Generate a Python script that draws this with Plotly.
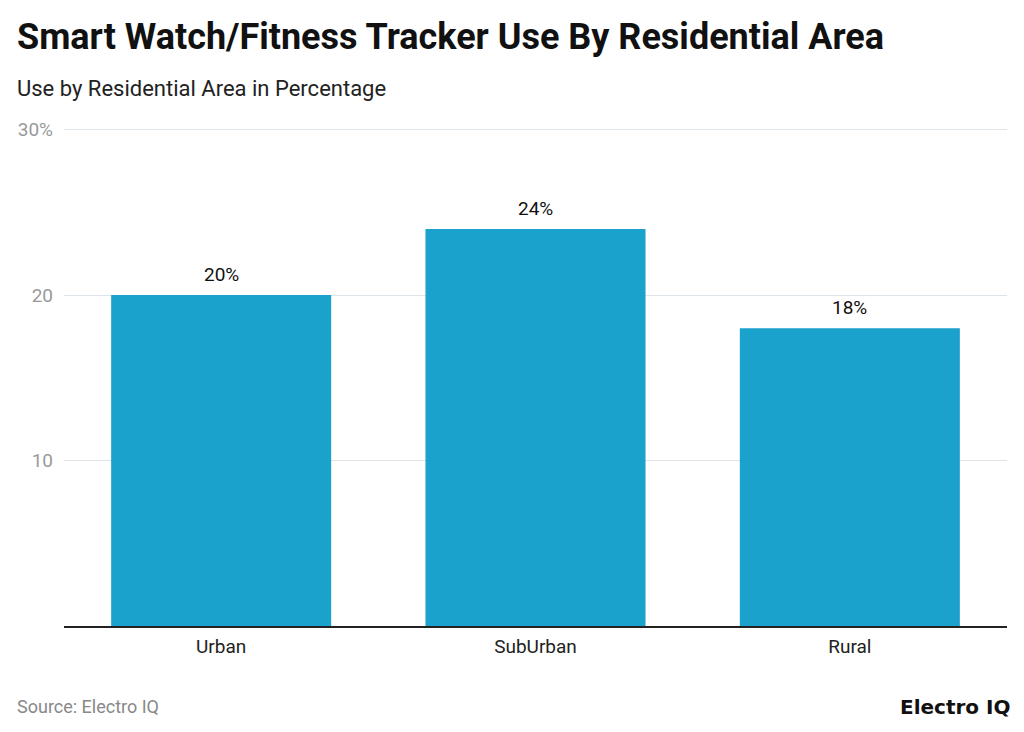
import plotly.graph_objects as go

categories = ["Urban", "SubUrban", "Rural"]
values = [20, 24, 18]
labels = ["20%", "24%", "18%"]
tick_vals = [10, 20, 30]
tick_text = ["10", "20", "30%"]

fig = go.Figure()
fig.add_trace(go.Bar(
    x=categories, y=values, width=0.7,
    marker=dict(color="#1aa1cc", line=dict(width=0)),
))

bar_labels = [
    dict(x=c, y=v, text=t, xref="x", yref="y", xanchor="center", yanchor="bottom",
         yshift=7, showarrow=False,
         font=dict(family="Roboto", size=19, color="#111111"))
    for c, v, t in zip(categories, values, labels)
]

fig.update_layout(
    width=1024, height=732,
    margin=dict(l=64, r=17, t=128, b=106),
    paper_bgcolor="white", plot_bgcolor="white",
    showlegend=False,
    font=dict(family="Roboto"),
    title=None,
    xaxis=dict(
        showgrid=False, showline=True, linecolor="#222222", linewidth=1.5,
        tickfont=dict(family="Roboto", size=19, color="#222222"),
        ticks="", ticklabelstandoff=2,
    ),
    yaxis=dict(
        range=[0, 30.1], tickvals=tick_vals, ticktext=tick_text,
        showgrid=True, gridcolor="#dde5ea", gridwidth=1,
        zeroline=False, showline=False, ticks="",
        tickfont=dict(family="Roboto", size=19, color="#9a9a9a"),
        ticklabelstandoff=10,
    ),
    annotations=bar_labels + [
        dict(text="<b>Smart Watch/Fitness Tracker Use By Residential Area</b>",
             xref="paper", yref="paper", x=0, y=1, xanchor="left", yanchor="middle",
             xshift=-49, yshift=91, showarrow=False,
             font=dict(family="Roboto", size=36, color="#111111")),
        dict(text="Use by Residential Area in Percentage",
             xref="paper", yref="paper", x=0, y=1, xanchor="left", yanchor="middle",
             xshift=-49, yshift=40, showarrow=False,
             font=dict(family="Roboto", size=22, color="#222222")),
        dict(text="Source: Electro IQ",
             xref="paper", yref="paper", x=0, y=0, xanchor="left", yanchor="middle",
             xshift=-49, yshift=-80, showarrow=False,
             font=dict(family="Roboto", size=18, color="#888888")),
        dict(text="<b>Electro IQ</b>",
             xref="paper", yref="paper", x=1, y=0, xanchor="right", yanchor="middle",
             xshift=6, yshift=-81, showarrow=False,
             font=dict(family="DejaVu Sans", size=20, color="#111111")),
    ],
)

fig.write_html("out.html")
